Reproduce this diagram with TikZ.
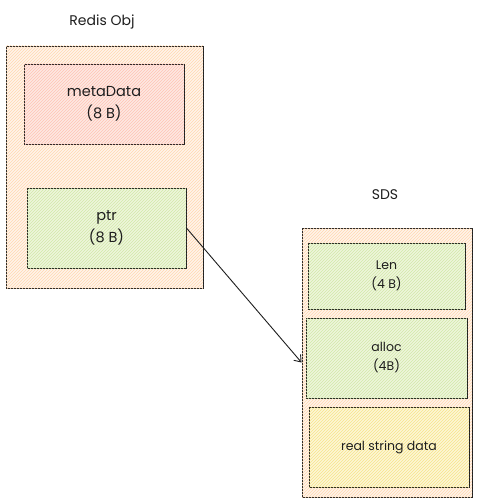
\documentclass[tikz,border=0pt]{standalone}
\usepackage{fontspec}
\setmainfont{Poppins}
\usetikzlibrary{patterns,arrows.meta}
\definecolor{ink}{HTML}{1E1E1E}
\definecolor{orangefill}{HTML}{FFF4EA}
\definecolor{orangehatch}{HTML}{FFD8B0}
\definecolor{pinkfill}{HTML}{FDE8E2}
\definecolor{pinkhatch}{HTML}{FFC4B4}
\definecolor{greenfill}{HTML}{EEF6DC}
\definecolor{greenhatch}{HTML}{D2E8A8}
\definecolor{yellowfill}{HTML}{FDF6D6}
\definecolor{yellowhatch}{HTML}{F6E48A}
\tikzset{
  box/.style={draw=ink, line width=0.9pt, rectangle, inner sep=0pt, align=center, text=ink},
  outerbox/.style={box, fill=orangefill, postaction={pattern=north east lines, pattern color=orangehatch}},
  pinkbox/.style={box, fill=pinkfill, postaction={pattern=north east lines, pattern color=pinkhatch}},
  greenbox/.style={box, fill=greenfill, postaction={pattern=north east lines, pattern color=greenhatch}},
  yellowbox/.style={box, fill=yellowfill, postaction={pattern=north east lines, pattern color=yellowhatch}},
  title/.style={text=ink, font=\fontsize{14}{16}\selectfont},
  big/.style={font=\fontsize{14.5}{22}\selectfont},
  small/.style={font=\fontsize{12.5}{19}\selectfont},
  conn/.style={draw=ink, line width=0.9pt, -{Straight Barb[length=6pt,width=9pt]}}
}
\begin{document}
\begin{tikzpicture}[x=1pt,y=-1pt]
\useasboundingbox (0,0) rectangle (479,503);
% Redis Obj
\node[title] (t1) at (102,22) {Redis Obj};
\node[outerbox, minimum width=197pt, minimum height=242pt] (redis) at (104.5,167) {};
\node[pinkbox, big, minimum width=160pt, minimum height=80pt] (meta) at (104,104) {metaData\\(8 B)};
\node[greenbox, big, minimum width=159pt, minimum height=80pt] (ptr) at (106.5,228) {ptr\\(8 B)};
% SDS
\node[title] (t2) at (385,195) {SDS};
\node[outerbox, minimum width=170pt, minimum height=269pt] (sds) at (387,362.5) {};
\node[greenbox, small, minimum width=157pt, minimum height=66pt] (len) at (386.5,276) {Len\\(4 B)};
\node[greenbox, small, minimum width=161pt, minimum height=80pt] (alloc) at (386.5,358) {alloc\\(4B)};
\node[yellowbox, small, minimum width=160pt, minimum height=80pt] (data) at (389,447) {real string data};
% connector
\draw[conn] (ptr.east) -- (sds.west);
\end{tikzpicture}
\end{document}
